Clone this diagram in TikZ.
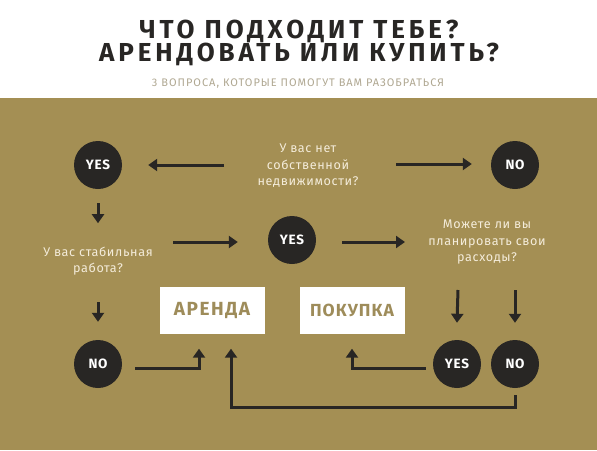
\documentclass[tikz,border=0pt]{standalone}
\usepackage{fontspec}
\setmainfont{Fira Sans}
\newfontfamily\titlefont[LetterSpace=15]{Fira Sans}
\newfontfamily\spacedfont[LetterSpace=5]{Fira Sans}
\usetikzlibrary{arrows.meta}
\definecolor{gold}{RGB}{164,143,84}
\definecolor{ink}{RGB}{40,38,36}
\definecolor{cream}{RGB}{244,236,218}
\definecolor{subgray}{RGB}{176,168,146}
\definecolor{boxtext}{RGB}{158,140,90}
\begin{document}
\begin{tikzpicture}[x=1pt,y=-1pt,
    arr/.style={-{Triangle[length=9pt,width=12pt]},line width=3pt,draw=ink},
    question/.style={align=center,text=cream,font=\spacedfont\fontsize{12.6}{16.5}\selectfont},
    answer/.style={rectangle,fill=white,minimum width=105pt,minimum height=47pt,
        text=boxtext,font=\spacedfont\bfseries}]
    \fill[white] (0,0) rectangle (597,98);
    \fill[gold] (0,98) rectangle (597,450);
    \useasboundingbox (0,0) rectangle (597,450);

    \node[font=\titlefont\bfseries\fontsize{26}{23.5}\selectfont,text=ink,align=center,inner sep=0pt] (title) at (299,43)
        {ЧТО ПОДХОДИТ ТЕБЕ?\\АРЕНДОВАТЬ ИЛИ КУПИТЬ?};
    \node[font=\spacedfont\addfontfeature{LetterSpace=9}\fontsize{11}{10}\selectfont,text=subgray] (sub) at (298,84)
        {3 ВОПРОСА, КОТОРЫЕ ПОМОГУТ ВАМ РАЗОБРАТЬСЯ};

    \begin{scope}[every node/.style={circle, fill=ink, minimum size=48pt, inner sep=0pt,
        text=white, font=\spacedfont\bfseries\fontsize{13.5}{13}\selectfont}]

        \node (yes1) at (98,165) {YES};
        \node (no1) at (515,165) {NO};
        \node (yes2) at (292,240) {YES};
        \node (no2) at (98,364) {NO};
        \node (yes3) at (457,364) {YES};
        \node (no3) at (515,364) {NO};

    \end{scope}

    \node[question] (q1) at (308,166) {У вас нет\\собственной\\недвижимости?};
    \node[question] (q2) at (98,261) {У вас стабильная\\работа?};
    \node[question] (q3) at (487,242) {Можете ли вы\\планировать свои\\расходы?};

    \node[answer,font=\spacedfont\bfseries\addfontfeature{LetterSpace=8}\fontsize{19}{19}\selectfont] (arenda) at (212,310) {АРЕНДА};
    \node[answer,font=\spacedfont\bfseries\addfontfeature{LetterSpace=6}\fontsize{17.5}{17}\selectfont] (pokupka) at (352,310) {ПОКУПКА};

    \coordinate (s1) at (224,165);
    \coordinate (s2) at (396,164);
    \coordinate (s3) at (173,242);
    \coordinate (t3) at (405,242);
    \coordinate (s4) at (98,302);
    \coordinate (s5) at (458,290);
    \coordinate (s6) at (515,290);
    \coordinate (bend) at (231,407);

    \draw[arr] (s1) -- ([xshift=26pt]yes1.east);
    \draw[arr] (s2) -- ([xshift=-19pt,yshift=1pt]no1.west);
    \draw[arr] ([yshift=-14pt]yes1.south) -- ([yshift=-34pt]yes1.south);
    \draw[arr] (s3) -- ([xshift=-30pt,yshift=-2pt]yes2.west);
    \draw[arr] ([xshift=26pt,yshift=-2pt]yes2.east) -- (t3);
    \draw[arr] (s4) -- ([yshift=18pt]no2.north);
    \draw[arr] (s5) -- ([yshift=17pt]yes3.north);
    \draw[arr] (s6) -- ([yshift=17pt]no3.north);
    \draw[arr] ([xshift=13pt,yshift=-4pt]no2.east) -| ([xshift=-13pt,yshift=-15pt]arenda.south);
    \draw[arr] ([xshift=-7pt,yshift=-4pt]yes3.west) -| ([yshift=-15pt]pokupka.south);
    \draw[arr] ([yshift=-7pt]no3.south) |- (bend) -- ([xshift=19pt,yshift=-15pt]arenda.south);
\end{tikzpicture}
\end{document}
